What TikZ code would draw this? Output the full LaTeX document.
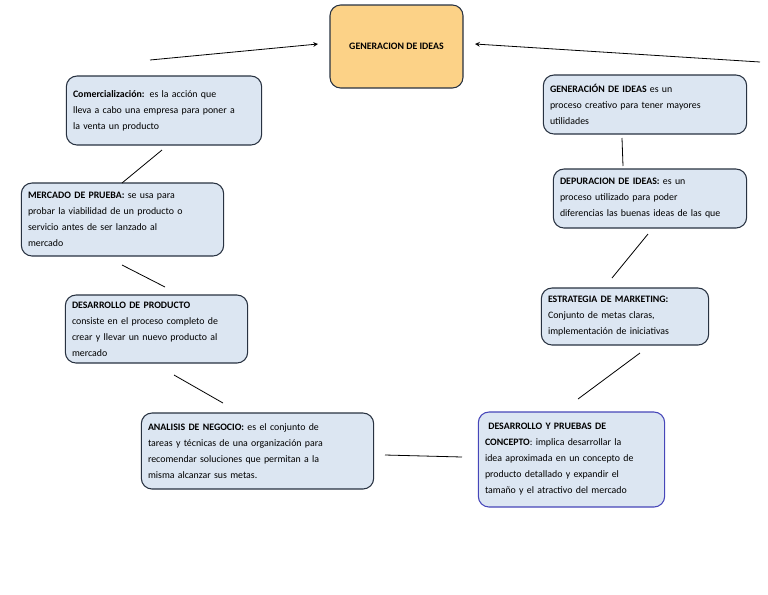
\documentclass[tikz,border=0pt]{standalone}
\usepackage{fontspec}
\setmainfont{Carlito}
\definecolor{bfill}{RGB}{220,230,242}
\definecolor{ofill}{RGB}{252,210,135}
\definecolor{bline}{RGB}{40,50,65}
\begin{document}
\begin{tikzpicture}[x=0.75pt,y=-0.75pt,
 box/.style={draw=bline,fill=bfill,rounded corners=8pt,line width=0.8pt,align=left,font=\fontsize{7.4}{12}\selectfont,inner sep=5pt,anchor=center},
 ln/.style={line width=0.6pt}]
\useasboundingbox (0,0) rectangle (768,594);
\node[box,fill=ofill,draw=bline,minimum width=133*0.75pt,minimum height=83*0.75pt,align=center,font=\fontsize{7.4}{9}\selectfont\bfseries] (gen) at (396.5,46.5) {GENERACION DE IDEAS};
\node[box,text width=182*0.75pt,minimum height=69*0.75pt] (com) at (164,110.5) {\textbf{Comercialización:} es la acción que\\lleva a cabo una empresa para poner a\\la venta un producto};
\node[box,text width=190*0.75pt,minimum height=59*0.75pt] (gi) at (645,104.5) {\textbf{GENERACIÓN DE IDEAS} es un\\proceso creativo para tener mayores\\utilidades};
\node[box,text width=189*0.75pt,minimum height=73*0.75pt] (mp) at (122.5,219.5) {\textbf{MERCADO DE PRUEBA:} se usa para\\probar la viabilidad de un producto o\\servicio antes de ser lanzado al\\mercado};
\node[box,text width=180*0.75pt,minimum height=59*0.75pt] (dep) at (650,198.5) {\textbf{DEPURACION DE IDEAS:} es un\\proceso utilizado para poder\\diferencias las buenas ideas de las que};
\node[box,text width=169*0.75pt,minimum height=68*0.75pt] (dp) at (156.5,329) {\textbf{DESARROLLO DE PRODUCTO}\\consiste en el proceso completo de\\crear y llevar un nuevo producto al\\mercado};
\node[box,text width=154*0.75pt,minimum height=57*0.75pt] (em) at (625,316.5) {\textbf{ESTRATEGIA DE MARKETING:}\\Conjunto de metas claras,\\implementación de iniciativas};
\node[box,text width=219*0.75pt,minimum height=76*0.75pt] (an) at (257.5,451) {\textbf{ANALISIS DE NEGOCIO:} es el conjunto de\\tareas y técnicas de una organización para\\recomendar soluciones que permitan a la\\misma alcanzar sus metas.};
\node[box,draw=blue!45!gray,text width=173*0.75pt,minimum height=95*0.75pt] (dpc) at (571.5,459.5) {\textbf{ DESARROLLO Y PRUEBAS DE}\\\textbf{CONCEPTO}: implica desarrollar la\\idea aproximada en un concepto de\\producto detallado y expandir el\\tamaño y el atractivo del mercado};
\coordinate (a1) at (150,60); \coordinate (a2) at (318,44);
\coordinate (b1) at (760,62); \coordinate (b2) at (475,44);
\draw[ln,-stealth] (a1) -- (a2);
\draw[ln,-stealth] (b1) -- (b2);
\coordinate (c1) at (162,150); \coordinate (c2) at (122,183);
\coordinate (d1) at (122,265); \coordinate (d2) at (165,287);
\coordinate (e1) at (174,375); \coordinate (e2) at (223,403);
\coordinate (f1) at (385,455); \coordinate (f2) at (462,457);
\coordinate (g1) at (578,399); \coordinate (g2) at (640,353);
\coordinate (h1) at (612,278); \coordinate (h2) at (648,234);
\coordinate (i1) at (622,138); \coordinate (i2) at (623,166);
\foreach \p/\q in {c1/c2,d1/d2,e1/e2,f1/f2,g1/g2,h1/h2,i1/i2} \draw[ln] (\p) -- (\q);
\end{tikzpicture}
\end{document}
